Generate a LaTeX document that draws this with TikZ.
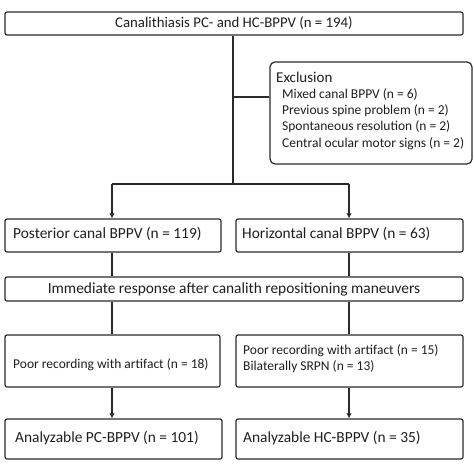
\documentclass[tikz,border=0pt]{standalone}
\usepackage{fontspec}
\setmainfont{Carlito}
\usetikzlibrary{arrows.meta}
\definecolor{ln}{HTML}{2A2A2A}
\definecolor{tx}{HTML}{1E1E1E}
\begin{document}
\begin{tikzpicture}[x=1pt,y=-1pt,
  box/.style={draw=ln,line width=1.2pt,rounded corners=2pt,minimum height=#1,inner sep=0pt,text=tx},
  big/.style={font=\fontsize{15.4}{17}\selectfont},
  topf/.style={font=\fontsize{14.8}{17}\selectfont},
  small/.style={font=\fontsize{13.5}{15}\selectfont},
  conn/.style={draw=ln,line width=1.2pt},
  arr/.style={conn,-{Latex[length=5pt,width=5.5pt]}},
  lt/.style={anchor=west,inner sep=0pt,text=tx}]
\useasboundingbox (0,0) rectangle (474,474);
% boxes
\node[box=23pt,minimum width=458pt,topf] (top) at (234,23.5) {Canalithiasis PC- and HC-BPPV (n = 194)};
\node[box=102pt,minimum width=202pt,rounded corners=5pt] (excl) at (371,113) {};
\node[lt,font=\fontsize{15}{17}\selectfont] (exclt) at (276,77) {Exclusion};
\node[lt,small] (e1) at (282,94) {Mixed canal BPPV (n = 6)};
\node[lt,small] (e2) at (282,110.5) {Previous spine problem (n = 2)};
\node[lt,small] (e3) at (282,127) {Spontaneous resolution (n = 2)};
\node[lt,small] (e4) at (282,143.5) {Central ocular motor signs (n = 2)};
\node[box=33pt,minimum width=216pt] (pc) at (113,235.5) {};
\node[lt,big] (pct) at (13,234) {Posterior canal BPPV (n = 119)};
\node[box=33pt,minimum width=227pt] (hc) at (349.5,235.5) {};
\node[lt,big] (hct) at (242,234) {Horizontal canal BPPV (n = 63)};
\node[box=24pt,minimum width=458pt,big] (imm) at (234,289) {Immediate response after canalith repositioning maneuvers};
\node[box=52pt,minimum width=215pt] (pl) at (112.5,361) {};
\node[lt,small] (plt) at (13,365) {Poor recording with artifact (n = 18)};
\node[box=52pt,minimum width=227pt] (pr) at (349.5,361) {};
\node[lt,small] (prt1) at (243,351) {Poor recording with artifact (n = 15)};
\node[lt,small] (prt2) at (243,367) {Bilaterally SRPN (n = 13)};
\node[box=40pt,minimum width=217pt] (al) at (113.5,439) {};
\node[lt,big] (alt) at (15,438) {Analyzable PC-BPPV (n = 101)};
\node[box=40pt,minimum width=227pt] (ar) at (349.5,439) {};
\node[lt,big] (art) at (243,438) {Analyzable HC-BPPV (n = 35)};
% junctions
\coordinate (j) at (233,184);
\coordinate (jl) at (112,184);
\coordinate (jr) at (349,184);
\coordinate (je) at (233,97);
% connectors
\draw[conn] (top.south -| j) -- (j);
\draw[conn] (je) -- (je -| excl.west);
\draw[conn] (jl) -- (jr);
\draw[arr] (jl) -- (jl |- pc.north);
\draw[arr] (jr) -- (jr |- hc.north);
\draw[conn] (jl |- pc.south) -- (jl |- imm.north);
\draw[conn] (jr |- hc.south) -- (jr |- imm.north);
\draw[conn] (jl |- imm.south) -- (jl |- pl.north);
\draw[conn] (jr |- imm.south) -- (jr |- pr.north);
\draw[arr] (jl |- pl.south) -- (jl |- al.north);
\draw[arr] (jr |- pr.south) -- (jr |- ar.north);
\end{tikzpicture}
\end{document}
